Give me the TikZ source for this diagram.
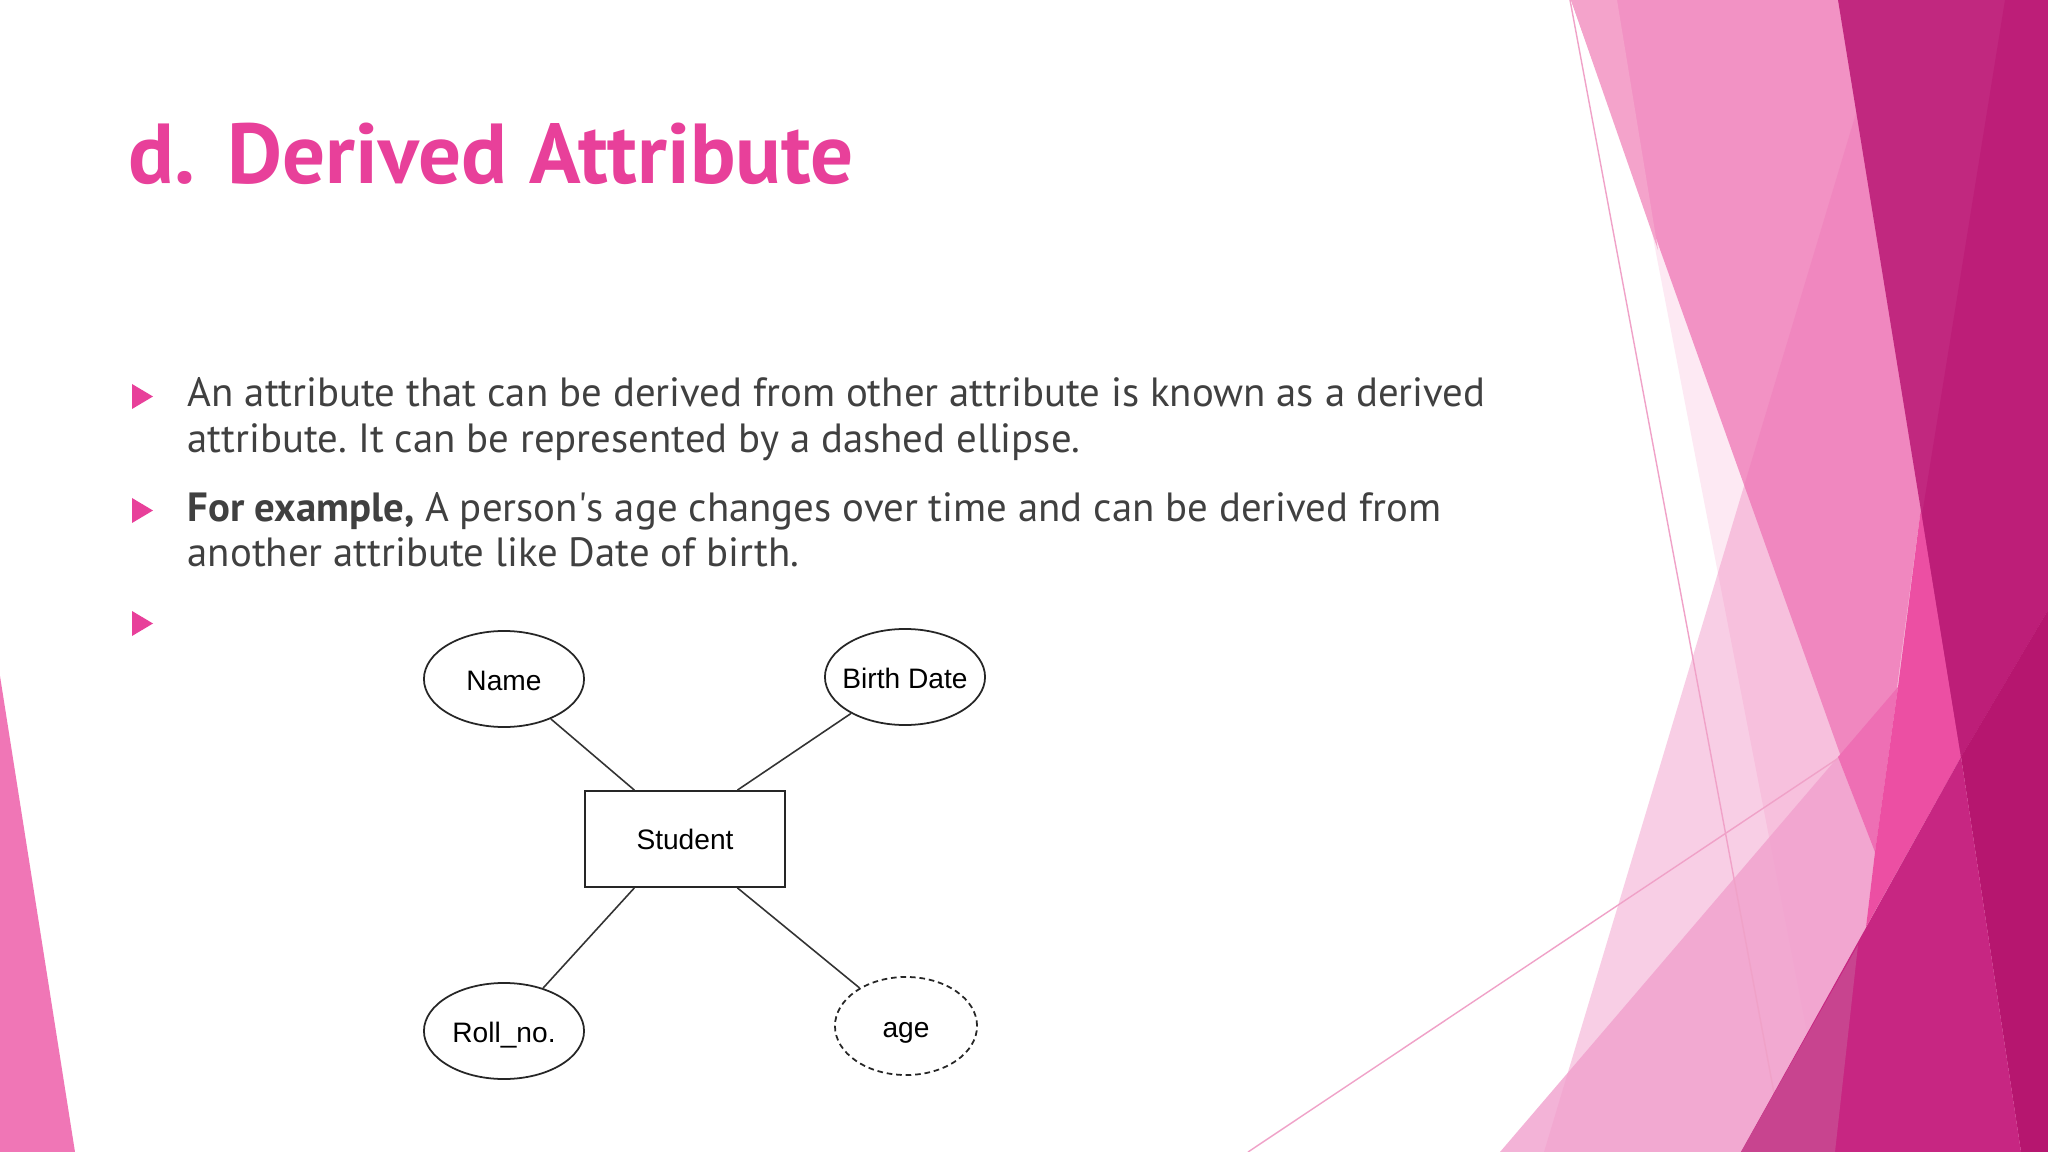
\documentclass[tikz,border=0pt]{standalone}
\usepackage{fontspec}
\setmainfont{PT Sans}
\newfontfamily\erfont{Liberation Sans}
\usetikzlibrary{shapes.geometric}
\frenchspacing
\definecolor{titlepink}{HTML}{E8409A}
\definecolor{bodygray}{HTML}{404040}
\definecolor{lefttri}{HTML}{F076B6}
\definecolor{facetA}{HTML}{F292C4}
\definecolor{facetAl}{HTML}{F4A3CB}
\definecolor{facetS}{HTML}{FDE9F3}
\definecolor{facetT}{HTML}{ED75B6}
\definecolor{facetH}{HTML}{EC4FA3}
\definecolor{facetHl}{HTML}{EE6FB4}
\definecolor{facetB}{HTML}{F1A0CD}
\definecolor{facetM}{HTML}{C72682}
\definecolor{facetMl}{HTML}{C8448F}
\definecolor{facetD}{HTML}{C1287F}
\definecolor{facetDr}{HTML}{BD1E78}
\definecolor{facetDk}{HTML}{B6166F}
\definecolor{facetline}{HTML}{F0A2C8}
\tikzset{
  bodytext/.style={anchor=base west, inner sep=0pt, text=bodygray, font=\fontsize{11.6}{14}\selectfont},
  attr/.style={ellipse, draw=black!85, line width=0.5pt, minimum width=1.6cm, minimum height=0.96cm, inner xsep=-0.1cm, inner ysep=0pt, text height=8pt, text depth=1.6pt, font=\erfont\fontsize{8}{9.6}\selectfont},
  derived/.style={attr, dash pattern=on 1.6pt off 1.1pt},
  entity/.style={rectangle, draw=black!85, line width=0.5pt, minimum width=2cm, minimum height=0.96cm, inner sep=0pt, font=\erfont\fontsize{8}{9.6}\selectfont},
  erline/.style={draw=black!80, line width=0.45pt}
}
\begin{document}
\begin{tikzpicture}[x=0.01cm, y=-0.01cm]
\useasboundingbox (0,0) rectangle (2048,1152);
\fill[white] (0,0) rectangle (2048,1152);
\fill[lefttri] (0,676) -- (75,1152) -- (0,1152) -- cycle;
\fill[facetS] (1607,0) -- (1830,1152) -- (2048,1152) -- (2048,0) -- cycle;
\fill[facetA] (1571,0) -- (1840,0) -- (1922,500) -- (1875,852) -- cycle;
\fill[facetAl] (1571,0) -- (1617,0) -- (1658,250) -- cycle;
\fill[facetT, fill opacity=0.35] (1890,0) -- (2048,0) -- (2048,1152) -- (1544,1152) -- cycle;
\fill[facetB, fill opacity=0.8] (1838,757) -- (1875,852) -- (1866,927) -- (1741,1152) -- (1500,1152) -- cycle;
\draw[facetline, line width=0.4pt] (1570,0) -- (1785,1152) (1248,1152) -- (1840,757);
\fill[facetHl] (1838,757) -- (1898,687) -- (1875,852) -- cycle;
\fill[facetH] (1922,500) -- (1961,757) -- (1866,927) -- (1875,852) -- (1898,687) -- cycle;
\fill[facetD] (1838,0) -- (2048,0) -- (2048,610) -- (1961,757) -- cycle;
\fill[facetDr] (2005,0) -- (2048,0) -- (2048,610) -- (1961,757) -- (1922,515) -- cycle;
\fill[facetDk] (2048,610) -- (2048,1152) -- (2021,1152) -- (1961,757) -- cycle;
\fill[facetM] (1961,757) -- (2021,1152) -- (1741,1152) -- cycle;
\fill[facetMl] (1741,1152) -- (1858,945) -- (1835,1152) -- cycle;
\node[anchor=base west, inner sep=0pt, text=titlepink, font=\bfseries\fontsize{24.2}{29}\selectfont] (title) at (128,184) {d. \hspace{3pt}Derived Attribute};
\fill[titlepink] (132,384) -- (153,396.5) -- (132,409) -- cycle (132,498) -- (153,510.5) -- (132,523) -- cycle (132,611) -- (153,623.5) -- (132,636) -- cycle;
\node[bodytext] (defa) at (187,407) {An attribute that can be derived from other attribute is known as a derived};
\node[bodytext] (defb) at (187,453) {attribute. It can be represented by a dashed ellipse.};
\node[bodytext] (exa) at (187,522) {\textbf{For example,} A person\textquotesingle s age changes over time and can be derived from};
\node[bodytext] (exb) at (187,567) {another attribute like Date of birth.};
\node[entity] (student) at (685,839) {Student};
\node[attr] (name) at (504,679) {Name};
\node[attr] (birth) at (905,677) {Birth Date};
\node[attr] (roll) at (504,1031) {Roll\_no.};
\node[derived, minimum width=1.42cm, minimum height=0.98cm] (age) at (906,1026) {age};
\draw[erline] (name) -- (student.136) (birth) -- (student.43) (roll) -- (student.-136) (age) -- (student.-43);
\end{tikzpicture}
\end{document}
